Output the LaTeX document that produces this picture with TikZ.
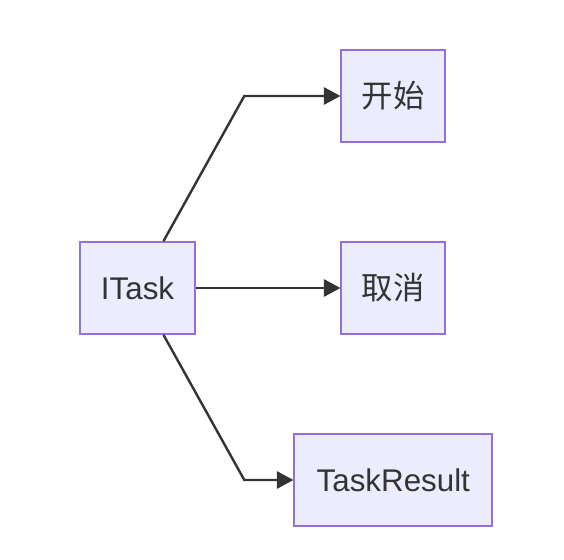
\documentclass[tikz,border=0pt]{standalone}
\usepackage{fontspec}
\setmainfont{Liberation Sans}
\newfontfamily\cjk{Noto Sans CJK SC}
\usepackage{tikz}
\usetikzlibrary{arrows.meta,positioning}

\definecolor{boxfill}{HTML}{ECECFF}
\definecolor{boxline}{HTML}{9370DB}
\definecolor{ink}{HTML}{333333}

\tikzset{
  box/.style={draw=boxline, fill=boxfill, line width=1.3pt, minimum height=69pt,
    text=ink, font=\fontsize{23.5}{28}\selectfont, inner sep=0pt},
  flow/.style={draw=ink, line width=1.8pt, -{Triangle[length=12.5pt,width=13pt]}}
}

\begin{document}
\begin{tikzpicture}[x=0.75pt,y=-0.75pt]
\useasboundingbox (0,0) rectangle (564,560);

\node[box, minimum width=86pt] (itask) at (137.5,288) {ITask};
\node[box, minimum width=78pt] (start) at (393.3,96) {\cjk 开始};
\node[box, minimum width=78pt] (cancel) at (393.3,288) {\cjk 取消};
\node[box, minimum width=148.5pt] (result) at (393.3,480) {TaskResult};

\coordinate (b1) at (244.3,96);
\coordinate (b2) at (244.3,480);

\draw[flow] (itask.61) -- (b1) -- (start.west);
\draw[flow] (itask.east) -- (cancel.west);
\draw[flow] (itask.-61) -- (b2) -- (result.west);
\end{tikzpicture}
\end{document}
